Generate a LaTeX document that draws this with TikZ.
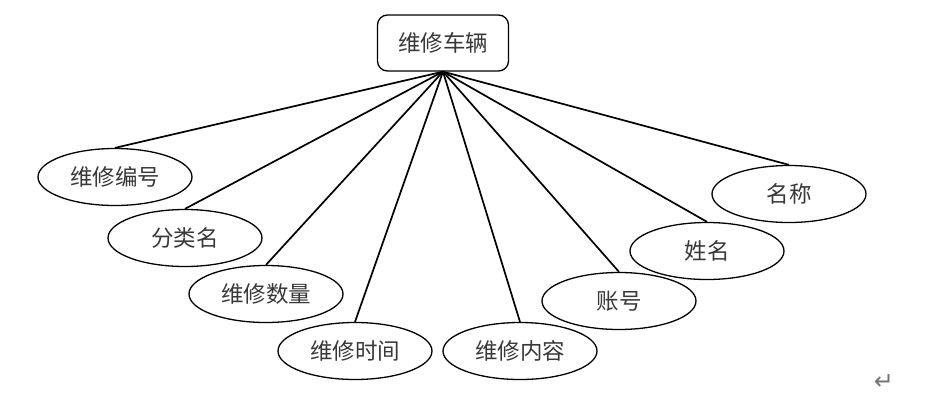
\documentclass[tikz,border=0pt]{standalone}
\usepackage{fontspec}
\setmainfont{Noto Sans CJK SC}
\newfontfamily\symfont{DejaVu Sans}
\usetikzlibrary{shapes.geometric}
\begin{document}
\begin{tikzpicture}[x=1pt,y=-1pt,
  attr/.style={ellipse,draw,line width=1.3pt,minimum width=154pt,minimum height=57pt,inner sep=0pt,font=\fontsize{22.5}{26}\selectfont,text=black!78},
  ent/.style={rectangle,rounded corners=10pt,draw,line width=1.3pt,minimum width=131pt,minimum height=56pt,inner sep=0pt,font=\fontsize{22.5}{26}\selectfont,text=black!78},
  link/.style={line width=1.7pt}]
\useasboundingbox (0,0) rectangle (927,405);
\node[ent] (e) at (443,43) {维修车辆};
\node[attr] (a1) at (115,177) {维修编号};
\node[attr] (a2) at (185,238) {分类名};
\node[attr] (a3) at (266,294) {维修数量};
\node[attr] (a4) at (355,351) {维修时间};
\node[attr] (a5) at (520,351) {维修内容};
\node[attr] (a6) at (619,301) {账号};
\node[attr] (a7) at (707,251) {姓名};
\node[attr] (a8) at (789,194) {名称};
\foreach \a in {a1,a2,a3,a4,a5,a6,a7,a8}
  \draw[link] (e.south) -- (\a.north);
\node[font=\symfont\fontsize{24}{26}\selectfont,text=black!55] (pm) at (884,382) {↵};
\end{tikzpicture}
\end{document}
